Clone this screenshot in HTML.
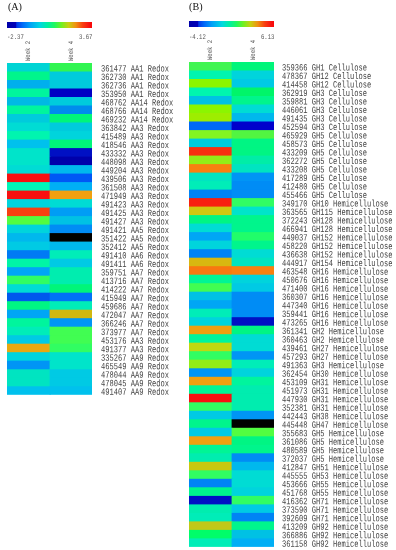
<!DOCTYPE html>
<html><head><meta charset="utf-8"><title>Heatmap</title>
<style>
html,body{margin:0;padding:0;background:#fff}
body{position:relative;width:396px;height:550px;overflow:hidden;font-family:"Liberation Mono",monospace;color:#444}
.t{position:absolute;font-family:"Liberation Serif",serif;font-size:10.1px;line-height:12px;color:#111;white-space:nowrap}
.cb{position:absolute;width:85px;height:6px;background:linear-gradient(to right,#0000a8 0%,#0000b8 10%,#0038e8 11.5%,#0068f8 18%,#00a0f8 27%,#00d8e0 39%,#00f0a0 48%,#20f860 56%,#70f020 64%,#c8d010 72.5%,#f09010 81%,#f84010 89%,#f81010 97%,#f80808 100%)}
.s{position:absolute;font-size:7.3px;line-height:8px;white-space:nowrap;color:#555;text-rendering:geometricPrecision;transform:scaleX(0.77);transform-origin:0 0}
.r{position:absolute;width:40px;height:8px;font-size:7px;line-height:8px;white-space:nowrap;transform:rotate(-90deg) scaleX(0.8);transform-origin:0 0;text-align:left;color:#505050;text-rendering:geometricPrecision}
.ls{overflow:visible} .ls text{font-family:"Liberation Mono",monospace;font-size:9.6px;fill:#444;text-rendering:geometricPrecision;white-space:pre}
</style></head><body>
<div class="t" style="left:7.9px;top:0.6px">(A)</div>
<div class="cb" style="left:7px;top:21.9px"></div>
<div class="s" style="left:7.3px;top:34.0px">-2.37</div>
<div class="s" style="left:78.7px;top:34.0px">3.67</div>
<div class="r" style="left:25.3px;top:61.2px">Week 2</div>
<div class="r" style="left:67.8px;top:61.2px">Week 4</div>
<svg style="position:absolute;left:7px;top:63.1px" width="85" height="331.8" viewBox="0 0 85 331.8"><rect x="0" y="0.0" width="43.6" height="9.5" fill="#00d4d4"/><rect x="42.6" y="0.0" width="42.4" height="9.5" fill="#31f552"/><rect x="0" y="8.5" width="43.6" height="9.5" fill="#00f58c"/><rect x="42.6" y="8.5" width="42.4" height="9.5" fill="#00cbdc"/><rect x="0" y="17.0" width="43.6" height="9.5" fill="#00afed"/><rect x="42.6" y="17.0" width="42.4" height="9.5" fill="#00cbdc"/><rect x="0" y="25.5" width="43.6" height="9.5" fill="#00f59d"/><rect x="42.6" y="25.5" width="42.4" height="9.5" fill="#0000c4"/><rect x="0" y="34.0" width="43.6" height="9.5" fill="#00b9e4"/><rect x="42.6" y="34.0" width="42.4" height="9.5" fill="#00cbdc"/><rect x="0" y="42.5" width="43.6" height="9.5" fill="#00f59d"/><rect x="42.6" y="42.5" width="42.4" height="9.5" fill="#008ced"/><rect x="0" y="51.0" width="43.6" height="9.5" fill="#00cbdc"/><rect x="42.6" y="51.0" width="42.4" height="9.5" fill="#00f57a"/><rect x="0" y="59.5" width="43.6" height="9.5" fill="#00dcd4"/><rect x="42.6" y="59.5" width="42.4" height="9.5" fill="#00cbdc"/><rect x="0" y="68.1" width="43.6" height="9.5" fill="#00f5af"/><rect x="42.6" y="68.1" width="42.4" height="9.5" fill="#00d4dc"/><rect x="0" y="76.6" width="43.6" height="9.5" fill="#00c1ed"/><rect x="42.6" y="76.6" width="42.4" height="9.5" fill="#00f57a"/><rect x="0" y="85.1" width="43.6" height="9.5" fill="#00e4ca"/><rect x="42.6" y="85.1" width="42.4" height="9.5" fill="#0010c4"/><rect x="0" y="93.6" width="43.6" height="9.5" fill="#00e4ca"/><rect x="42.6" y="93.6" width="42.4" height="9.5" fill="#0000ab"/><rect x="0" y="102.1" width="43.6" height="9.5" fill="#00dcd4"/><rect x="42.6" y="102.1" width="42.4" height="9.5" fill="#00b8ed"/><rect x="0" y="110.6" width="43.6" height="9.5" fill="#f81010"/><rect x="42.6" y="110.6" width="42.4" height="9.5" fill="#0057f5"/><rect x="0" y="119.1" width="43.6" height="9.5" fill="#00f5b8"/><rect x="42.6" y="119.1" width="42.4" height="9.5" fill="#00aff5"/><rect x="0" y="127.6" width="43.6" height="9.5" fill="#f81010"/><rect x="42.6" y="127.6" width="42.4" height="9.5" fill="#f0a010"/><rect x="0" y="136.1" width="43.6" height="9.5" fill="#00d4dc"/><rect x="42.6" y="136.1" width="42.4" height="9.5" fill="#00dcd4"/><rect x="0" y="144.6" width="43.6" height="9.5" fill="#f84010"/><rect x="42.6" y="144.6" width="42.4" height="9.5" fill="#009df5"/><rect x="0" y="153.1" width="43.6" height="9.5" fill="#52fd41"/><rect x="42.6" y="153.1" width="42.4" height="9.5" fill="#00c1e4"/><rect x="0" y="161.6" width="43.6" height="9.5" fill="#00d4dc"/><rect x="42.6" y="161.6" width="42.4" height="9.5" fill="#008cf5"/><rect x="0" y="170.1" width="43.6" height="9.5" fill="#00b8ed"/><rect x="42.6" y="170.1" width="42.4" height="9.5" fill="#000000"/><rect x="0" y="178.6" width="43.6" height="9.5" fill="#00cae4"/><rect x="42.6" y="178.6" width="42.4" height="9.5" fill="#00b8ed"/><rect x="0" y="187.2" width="43.6" height="9.5" fill="#007af5"/><rect x="42.6" y="187.2" width="42.4" height="9.5" fill="#00edb8"/><rect x="0" y="195.7" width="43.6" height="9.5" fill="#00f5a6"/><rect x="42.6" y="195.7" width="42.4" height="9.5" fill="#00cae4"/><rect x="0" y="204.2" width="43.6" height="9.5" fill="#00a6f5"/><rect x="42.6" y="204.2" width="42.4" height="9.5" fill="#00edaf"/><rect x="0" y="212.7" width="43.6" height="9.5" fill="#31fd62"/><rect x="42.6" y="212.7" width="42.4" height="9.5" fill="#00edaf"/><rect x="0" y="221.2" width="43.6" height="9.5" fill="#00dcd4"/><rect x="42.6" y="221.2" width="42.4" height="9.5" fill="#00f57a"/><rect x="0" y="229.7" width="43.6" height="9.5" fill="#0058ed"/><rect x="42.6" y="229.7" width="42.4" height="9.5" fill="#0072f5"/><rect x="0" y="238.2" width="43.6" height="9.5" fill="#00f583"/><rect x="42.6" y="238.2" width="42.4" height="9.5" fill="#00edb8"/><rect x="0" y="246.7" width="43.6" height="9.5" fill="#00a6f5"/><rect x="42.6" y="246.7" width="42.4" height="9.5" fill="#d0b810"/><rect x="0" y="255.2" width="43.6" height="9.5" fill="#00f59d"/><rect x="42.6" y="255.2" width="42.4" height="9.5" fill="#0095f5"/><rect x="0" y="263.7" width="43.6" height="9.5" fill="#00edb8"/><rect x="42.6" y="263.7" width="42.4" height="9.5" fill="#41fd52"/><rect x="0" y="272.2" width="43.6" height="9.5" fill="#00cae4"/><rect x="42.6" y="272.2" width="42.4" height="9.5" fill="#41fd52"/><rect x="0" y="280.7" width="43.6" height="9.5" fill="#e8a810"/><rect x="42.6" y="280.7" width="42.4" height="9.5" fill="#31fd62"/><rect x="0" y="289.2" width="43.6" height="9.5" fill="#00d4dc"/><rect x="42.6" y="289.2" width="42.4" height="9.5" fill="#00e4ca"/><rect x="0" y="297.7" width="43.6" height="9.5" fill="#0095f5"/><rect x="42.6" y="297.7" width="42.4" height="9.5" fill="#00e4ca"/><rect x="0" y="306.3" width="43.6" height="9.5" fill="#00e4c1"/><rect x="42.6" y="306.3" width="42.4" height="9.5" fill="#00cae4"/><rect x="0" y="314.8" width="43.6" height="9.5" fill="#00e4c1"/><rect x="42.6" y="314.8" width="42.4" height="9.5" fill="#00cae4"/><rect x="0" y="323.3" width="43.6" height="8.5" fill="#00c1ed"/><rect x="42.6" y="323.3" width="42.4" height="8.5" fill="#00c1ed"/></svg>
<svg class="ls" style="position:absolute;left:100.7px;top:63.1px" width="295.3" height="335.8"><text transform="translate(0 8.40) scale(0.738 1) rotate(0.03)">361477 AA1 Redox</text><text transform="translate(0 16.91) scale(0.738 1) rotate(0.03)">362730 AA1 Redox</text><text transform="translate(0 25.41) scale(0.738 1) rotate(0.03)">362736 AA1 Redox</text><text transform="translate(0 33.92) scale(0.738 1) rotate(0.03)">353950 AA1 Redox</text><text transform="translate(0 42.43) scale(0.738 1) rotate(0.03)">468762 AA14 Redox</text><text transform="translate(0 50.93) scale(0.738 1) rotate(0.03)">468766 AA14 Redox</text><text transform="translate(0 59.44) scale(0.738 1) rotate(0.03)">469232 AA14 Redox</text><text transform="translate(0 67.95) scale(0.738 1) rotate(0.03)">363842 AA3 Redox</text><text transform="translate(0 76.46) scale(0.738 1) rotate(0.03)">415489 AA3 Redox</text><text transform="translate(0 84.96) scale(0.738 1) rotate(0.03)">418546 AA3 Redox</text><text transform="translate(0 93.47) scale(0.738 1) rotate(0.03)">433332 AA3 Redox</text><text transform="translate(0 101.98) scale(0.738 1) rotate(0.03)">448098 AA3 Redox</text><text transform="translate(0 110.48) scale(0.738 1) rotate(0.03)">449204 AA3 Redox</text><text transform="translate(0 118.99) scale(0.738 1) rotate(0.03)">439506 AA3 Redox</text><text transform="translate(0 127.50) scale(0.738 1) rotate(0.03)">361508 AA3 Redox</text><text transform="translate(0 136.00) scale(0.738 1) rotate(0.03)">471949 AA3 Redox</text><text transform="translate(0 144.51) scale(0.738 1) rotate(0.03)">491423 AA3 Redox</text><text transform="translate(0 153.02) scale(0.738 1) rotate(0.03)">491425 AA3 Redox</text><text transform="translate(0 161.53) scale(0.738 1) rotate(0.03)">491427 AA3 Redox</text><text transform="translate(0 170.03) scale(0.738 1) rotate(0.03)">491421 AA5 Redox</text><text transform="translate(0 178.54) scale(0.738 1) rotate(0.03)">351422 AA5 Redox</text><text transform="translate(0 187.05) scale(0.738 1) rotate(0.03)">352412 AA5 Redox</text><text transform="translate(0 195.55) scale(0.738 1) rotate(0.03)">491410 AA6 Redox</text><text transform="translate(0 204.06) scale(0.738 1) rotate(0.03)">491411 AA6 Redox</text><text transform="translate(0 212.57) scale(0.738 1) rotate(0.03)">359751 AA7 Redox</text><text transform="translate(0 221.07) scale(0.738 1) rotate(0.03)">413716 AA7 Redox</text><text transform="translate(0 229.58) scale(0.738 1) rotate(0.03)">414222 AA7 Redox</text><text transform="translate(0 238.09) scale(0.738 1) rotate(0.03)">415949 AA7 Redox</text><text transform="translate(0 246.60) scale(0.738 1) rotate(0.03)">459686 AA7 Redox</text><text transform="translate(0 255.10) scale(0.738 1) rotate(0.03)">472047 AA7 Redox</text><text transform="translate(0 263.61) scale(0.738 1) rotate(0.03)">366246 AA7 Redox</text><text transform="translate(0 272.12) scale(0.738 1) rotate(0.03)">373977 AA7 Redox</text><text transform="translate(0 280.62) scale(0.738 1) rotate(0.03)">453176 AA3 Redox</text><text transform="translate(0 289.13) scale(0.738 1) rotate(0.03)">491377 AA3 Redox</text><text transform="translate(0 297.64) scale(0.738 1) rotate(0.03)">335267 AA9 Redox</text><text transform="translate(0 306.14) scale(0.738 1) rotate(0.03)">465549 AA9 Redox</text><text transform="translate(0 314.65) scale(0.738 1) rotate(0.03)">478044 AA9 Redox</text><text transform="translate(0 323.16) scale(0.738 1) rotate(0.03)">478045 AA9 Redox</text><text transform="translate(0 331.67) scale(0.738 1) rotate(0.03)">491407 AA9 Redox</text></svg>
<div class="t" style="left:189.1px;top:0.6px">(B)</div>
<div class="cb" style="left:189px;top:20.5px"></div>
<div class="s" style="left:189.3px;top:33.5px">-4.12</div>
<div class="s" style="left:260.7px;top:33.5px">6.13</div>
<div class="r" style="left:207.3px;top:60.3px">Week 2</div>
<div class="r" style="left:249.8px;top:60.3px">Week 4</div>
<svg style="position:absolute;left:189px;top:62.2px" width="85" height="484.9" viewBox="0 0 85 484.9"><rect x="0" y="0.0" width="43.6" height="9.5" fill="#41f552"/><rect x="42.6" y="0.0" width="42.4" height="9.5" fill="#00f57a"/><rect x="0" y="8.5" width="43.6" height="9.5" fill="#00f5af"/><rect x="42.6" y="8.5" width="42.4" height="9.5" fill="#00d4dc"/><rect x="0" y="17.0" width="43.6" height="9.5" fill="#8cf500"/><rect x="42.6" y="17.0" width="42.4" height="9.5" fill="#00cae4"/><rect x="0" y="25.5" width="43.6" height="9.5" fill="#00f5af"/><rect x="42.6" y="25.5" width="42.4" height="9.5" fill="#00f569"/><rect x="0" y="34.0" width="43.6" height="9.5" fill="#00c1e4"/><rect x="42.6" y="34.0" width="42.4" height="9.5" fill="#00f58c"/><rect x="0" y="42.5" width="43.6" height="9.5" fill="#8cf500"/><rect x="42.6" y="42.5" width="42.4" height="9.5" fill="#00dcd4"/><rect x="0" y="51.0" width="43.6" height="9.5" fill="#9eed00"/><rect x="42.6" y="51.0" width="42.4" height="9.5" fill="#00b8ed"/><rect x="0" y="59.5" width="43.6" height="9.5" fill="#0069f5"/><rect x="42.6" y="59.5" width="42.4" height="9.5" fill="#0000cc"/><rect x="0" y="68.1" width="43.6" height="9.5" fill="#83f521"/><rect x="42.6" y="68.1" width="42.4" height="9.5" fill="#52f541"/><rect x="0" y="76.6" width="43.6" height="9.5" fill="#00cbdc"/><rect x="42.6" y="76.6" width="42.4" height="9.5" fill="#00f583"/><rect x="0" y="85.1" width="43.6" height="9.5" fill="#f83010"/><rect x="42.6" y="85.1" width="42.4" height="9.5" fill="#00f583"/><rect x="0" y="93.6" width="43.6" height="9.5" fill="#93ed18"/><rect x="42.6" y="93.6" width="42.4" height="9.5" fill="#00eda7"/><rect x="0" y="102.1" width="43.6" height="9.5" fill="#f88010"/><rect x="42.6" y="102.1" width="42.4" height="9.5" fill="#00e4c1"/><rect x="0" y="110.6" width="43.6" height="9.5" fill="#00e4c1"/><rect x="42.6" y="110.6" width="42.4" height="9.5" fill="#0095f5"/><rect x="0" y="119.1" width="43.6" height="9.5" fill="#00edb8"/><rect x="42.6" y="119.1" width="42.4" height="9.5" fill="#008cf5"/><rect x="0" y="127.6" width="43.6" height="9.5" fill="#0083f5"/><rect x="42.6" y="127.6" width="42.4" height="9.5" fill="#008cf5"/><rect x="0" y="136.1" width="43.6" height="9.5" fill="#f82010"/><rect x="42.6" y="136.1" width="42.4" height="9.5" fill="#31fd62"/><rect x="0" y="144.6" width="43.6" height="9.5" fill="#d0c810"/><rect x="42.6" y="144.6" width="42.4" height="9.5" fill="#00e4ca"/><rect x="0" y="153.1" width="43.6" height="9.5" fill="#00f583"/><rect x="42.6" y="153.1" width="42.4" height="9.5" fill="#00f58c"/><rect x="0" y="161.6" width="43.6" height="9.5" fill="#00dcd4"/><rect x="42.6" y="161.6" width="42.4" height="9.5" fill="#00f58c"/><rect x="0" y="170.1" width="43.6" height="9.5" fill="#00a6f5"/><rect x="42.6" y="170.1" width="42.4" height="9.5" fill="#21fd6a"/><rect x="0" y="178.6" width="43.6" height="9.5" fill="#00d4dc"/><rect x="42.6" y="178.6" width="42.4" height="9.5" fill="#00f58c"/><rect x="0" y="187.2" width="43.6" height="9.5" fill="#0083f5"/><rect x="42.6" y="187.2" width="42.4" height="9.5" fill="#00dcd4"/><rect x="0" y="195.7" width="43.6" height="9.5" fill="#d8b810"/><rect x="42.6" y="195.7" width="42.4" height="9.5" fill="#00e4c1"/><rect x="0" y="204.2" width="43.6" height="9.5" fill="#f87810"/><rect x="42.6" y="204.2" width="42.4" height="9.5" fill="#f88010"/><rect x="0" y="212.7" width="43.6" height="9.5" fill="#00f595"/><rect x="42.6" y="212.7" width="42.4" height="9.5" fill="#00d4dc"/><rect x="0" y="221.2" width="43.6" height="9.5" fill="#41fd52"/><rect x="42.6" y="221.2" width="42.4" height="9.5" fill="#00cae4"/><rect x="0" y="229.7" width="43.6" height="9.5" fill="#00c1e4"/><rect x="42.6" y="229.7" width="42.4" height="9.5" fill="#008cf5"/><rect x="0" y="238.2" width="43.6" height="9.5" fill="#00a6f5"/><rect x="42.6" y="238.2" width="42.4" height="9.5" fill="#008cf5"/><rect x="0" y="246.7" width="43.6" height="9.5" fill="#00edb8"/><rect x="42.6" y="246.7" width="42.4" height="9.5" fill="#008cf5"/><rect x="0" y="255.2" width="43.6" height="9.5" fill="#00d4dc"/><rect x="42.6" y="255.2" width="42.4" height="9.5" fill="#0010c4"/><rect x="0" y="263.7" width="43.6" height="9.5" fill="#f0a010"/><rect x="42.6" y="263.7" width="42.4" height="9.5" fill="#00f583"/><rect x="0" y="272.2" width="43.6" height="9.5" fill="#00f59d"/><rect x="42.6" y="272.2" width="42.4" height="9.5" fill="#00dcd4"/><rect x="0" y="280.7" width="43.6" height="9.5" fill="#c0d810"/><rect x="42.6" y="280.7" width="42.4" height="9.5" fill="#00dcd4"/><rect x="0" y="289.2" width="43.6" height="9.5" fill="#31fd62"/><rect x="42.6" y="289.2" width="42.4" height="9.5" fill="#0095f5"/><rect x="0" y="297.7" width="43.6" height="9.5" fill="#93ed18"/><rect x="42.6" y="297.7" width="42.4" height="9.5" fill="#00edb8"/><rect x="0" y="306.3" width="43.6" height="9.5" fill="#0095f5"/><rect x="42.6" y="306.3" width="42.4" height="9.5" fill="#00d4dc"/><rect x="0" y="314.8" width="43.6" height="9.5" fill="#f0a010"/><rect x="42.6" y="314.8" width="42.4" height="9.5" fill="#00f59d"/><rect x="0" y="323.3" width="43.6" height="9.5" fill="#00f595"/><rect x="42.6" y="323.3" width="42.4" height="9.5" fill="#00edaf"/><rect x="0" y="331.8" width="43.6" height="9.5" fill="#f81010"/><rect x="42.6" y="331.8" width="42.4" height="9.5" fill="#00edaf"/><rect x="0" y="340.3" width="43.6" height="9.5" fill="#31fd62"/><rect x="42.6" y="340.3" width="42.4" height="9.5" fill="#00edaf"/><rect x="0" y="348.8" width="43.6" height="9.5" fill="#00cae4"/><rect x="42.6" y="348.8" width="42.4" height="9.5" fill="#0095f5"/><rect x="0" y="357.3" width="43.6" height="9.5" fill="#00f58c"/><rect x="42.6" y="357.3" width="42.4" height="9.5" fill="#000000"/><rect x="0" y="365.8" width="43.6" height="9.5" fill="#00cae4"/><rect x="42.6" y="365.8" width="42.4" height="9.5" fill="#52fd41"/><rect x="0" y="374.3" width="43.6" height="9.5" fill="#f0a010"/><rect x="42.6" y="374.3" width="42.4" height="9.5" fill="#00f583"/><rect x="0" y="382.8" width="43.6" height="9.5" fill="#00f595"/><rect x="42.6" y="382.8" width="42.4" height="9.5" fill="#00f58c"/><rect x="0" y="391.3" width="43.6" height="9.5" fill="#00edaf"/><rect x="42.6" y="391.3" width="42.4" height="9.5" fill="#008cf5"/><rect x="0" y="399.8" width="43.6" height="9.5" fill="#c8c810"/><rect x="42.6" y="399.8" width="42.4" height="9.5" fill="#00b8ed"/><rect x="0" y="408.3" width="43.6" height="9.5" fill="#31fd62"/><rect x="42.6" y="408.3" width="42.4" height="9.5" fill="#00dcd4"/><rect x="0" y="416.8" width="43.6" height="9.5" fill="#0083f5"/><rect x="42.6" y="416.8" width="42.4" height="9.5" fill="#00dcd4"/><rect x="0" y="425.3" width="43.6" height="9.5" fill="#00f58c"/><rect x="42.6" y="425.3" width="42.4" height="9.5" fill="#00d4dc"/><rect x="0" y="433.9" width="43.6" height="9.5" fill="#0010c4"/><rect x="42.6" y="433.9" width="42.4" height="9.5" fill="#31fd62"/><rect x="0" y="442.4" width="43.6" height="9.5" fill="#00edaf"/><rect x="42.6" y="442.4" width="42.4" height="9.5" fill="#00cae4"/><rect x="0" y="450.9" width="43.6" height="9.5" fill="#00edb8"/><rect x="42.6" y="450.9" width="42.4" height="9.5" fill="#0083f5"/><rect x="0" y="459.4" width="43.6" height="9.5" fill="#c0c818"/><rect x="42.6" y="459.4" width="42.4" height="9.5" fill="#00f58c"/><rect x="0" y="467.9" width="43.6" height="9.5" fill="#00fd69"/><rect x="42.6" y="467.9" width="42.4" height="9.5" fill="#00c1e4"/><rect x="0" y="476.4" width="43.6" height="8.5" fill="#00edb8"/><rect x="42.6" y="476.4" width="42.4" height="8.5" fill="#00aff5"/></svg>
<svg class="ls" style="position:absolute;left:282.3px;top:62.2px" width="113.7" height="488.9"><text transform="translate(0 8.40) scale(0.738 1) rotate(0.03)">359366 GH1 Cellulose</text><text transform="translate(0 16.91) scale(0.738 1) rotate(0.03)">478367 GH12 Cellulose</text><text transform="translate(0 25.41) scale(0.738 1) rotate(0.03)">414458 GH12 Cellulose</text><text transform="translate(0 33.92) scale(0.738 1) rotate(0.03)">362919 GH3 Cellulose</text><text transform="translate(0 42.43) scale(0.738 1) rotate(0.03)">359881 GH3 Cellulose</text><text transform="translate(0 50.93) scale(0.738 1) rotate(0.03)">446061 GH3 Cellulose</text><text transform="translate(0 59.44) scale(0.738 1) rotate(0.03)">491435 GH3 Cellulose</text><text transform="translate(0 67.95) scale(0.738 1) rotate(0.03)">452594 GH3 Cellulose</text><text transform="translate(0 76.46) scale(0.738 1) rotate(0.03)">465929 GH5 Cellulose</text><text transform="translate(0 84.96) scale(0.738 1) rotate(0.03)">458573 GH5 Cellulose</text><text transform="translate(0 93.47) scale(0.738 1) rotate(0.03)">433209 GH5 Cellulose</text><text transform="translate(0 101.98) scale(0.738 1) rotate(0.03)">362272 GH5 Cellulose</text><text transform="translate(0 110.48) scale(0.738 1) rotate(0.03)">433208 GH5 Cellulose</text><text transform="translate(0 118.99) scale(0.738 1) rotate(0.03)">417289 GH5 Cellulose</text><text transform="translate(0 127.50) scale(0.738 1) rotate(0.03)">412480 GH5 Cellulose</text><text transform="translate(0 136.00) scale(0.738 1) rotate(0.03)">455466 GH5 Cellulose</text><text transform="translate(0 144.51) scale(0.738 1) rotate(0.03)">349170 GH10 Hemicellulose</text><text transform="translate(0 153.02) scale(0.738 1) rotate(0.03)">363565 GH115 Hemicellulose</text><text transform="translate(0 161.53) scale(0.738 1) rotate(0.03)">372243 GH128 Hemicellulose</text><text transform="translate(0 170.03) scale(0.738 1) rotate(0.03)">466941 GH128 Hemicellulose</text><text transform="translate(0 178.54) scale(0.738 1) rotate(0.03)">449037 GH152 Hemicellulose</text><text transform="translate(0 187.05) scale(0.738 1) rotate(0.03)">458220 GH152 Hemicellulose</text><text transform="translate(0 195.55) scale(0.738 1) rotate(0.03)">436638 GH152 Hemicellulose</text><text transform="translate(0 204.06) scale(0.738 1) rotate(0.03)">444917 GH154 Hemicellulose</text><text transform="translate(0 212.57) scale(0.738 1) rotate(0.03)">463548 GH16 Hemicellulose</text><text transform="translate(0 221.07) scale(0.738 1) rotate(0.03)">450676 GH16 Hemicellulose</text><text transform="translate(0 229.58) scale(0.738 1) rotate(0.03)">471400 GH16 Hemicellulose</text><text transform="translate(0 238.09) scale(0.738 1) rotate(0.03)">360307 GH16 Hemicellulose</text><text transform="translate(0 246.60) scale(0.738 1) rotate(0.03)">447340 GH16 Hemicellulose</text><text transform="translate(0 255.10) scale(0.738 1) rotate(0.03)">359441 GH16 Hemicellulose</text><text transform="translate(0 263.61) scale(0.738 1) rotate(0.03)">473265 GH16 Hemicellulose</text><text transform="translate(0 272.12) scale(0.738 1) rotate(0.03)">361341 GH2 Hemicellulose</text><text transform="translate(0 280.62) scale(0.738 1) rotate(0.03)">360463 GH2 Hemicellulose</text><text transform="translate(0 289.13) scale(0.738 1) rotate(0.03)">439461 GH27 Hemicellulose</text><text transform="translate(0 297.64) scale(0.738 1) rotate(0.03)">457293 GH27 Hemicellulose</text><text transform="translate(0 306.14) scale(0.738 1) rotate(0.03)">491363 GH3 Hemicellulose</text><text transform="translate(0 314.65) scale(0.738 1) rotate(0.03)">362454 GH30 Hemicellulose</text><text transform="translate(0 323.16) scale(0.738 1) rotate(0.03)">453109 GH31 Hemicellulose</text><text transform="translate(0 331.67) scale(0.738 1) rotate(0.03)">451973 GH31 Hemicellulose</text><text transform="translate(0 340.17) scale(0.738 1) rotate(0.03)">447930 GH31 Hemicellulose</text><text transform="translate(0 348.68) scale(0.738 1) rotate(0.03)">352381 GH31 Hemicellulose</text><text transform="translate(0 357.19) scale(0.738 1) rotate(0.03)">442443 GH38 Hemicellulose</text><text transform="translate(0 365.69) scale(0.738 1) rotate(0.03)">445448 GH47 Hemicellulose</text><text transform="translate(0 374.20) scale(0.738 1) rotate(0.03)">355683 GH5 Hemicellulose</text><text transform="translate(0 382.71) scale(0.738 1) rotate(0.03)">361086 GH5 Hemicellulose</text><text transform="translate(0 391.21) scale(0.738 1) rotate(0.03)">480589 GH5 Hemicellulose</text><text transform="translate(0 399.72) scale(0.738 1) rotate(0.03)">372037 GH5 Hemicellulose</text><text transform="translate(0 408.23) scale(0.738 1) rotate(0.03)">412847 GH51 Hemicellulose</text><text transform="translate(0 416.74) scale(0.738 1) rotate(0.03)">445555 GH53 Hemicellulose</text><text transform="translate(0 425.24) scale(0.738 1) rotate(0.03)">453666 GH55 Hemicellulose</text><text transform="translate(0 433.75) scale(0.738 1) rotate(0.03)">451768 GH55 Hemicellulose</text><text transform="translate(0 442.26) scale(0.738 1) rotate(0.03)">416362 GH71 Hemicellulose</text><text transform="translate(0 450.76) scale(0.738 1) rotate(0.03)">373590 GH71 Hemicellulose</text><text transform="translate(0 459.27) scale(0.738 1) rotate(0.03)">392609 GH71 Hemicellulose</text><text transform="translate(0 467.78) scale(0.738 1) rotate(0.03)">413209 GH92 Hemicellulose</text><text transform="translate(0 476.28) scale(0.738 1) rotate(0.03)">366886 GH92 Hemicellulose</text><text transform="translate(0 484.79) scale(0.738 1) rotate(0.03)">361158 GH92 Hemicellulose</text></svg>
</body></html>
